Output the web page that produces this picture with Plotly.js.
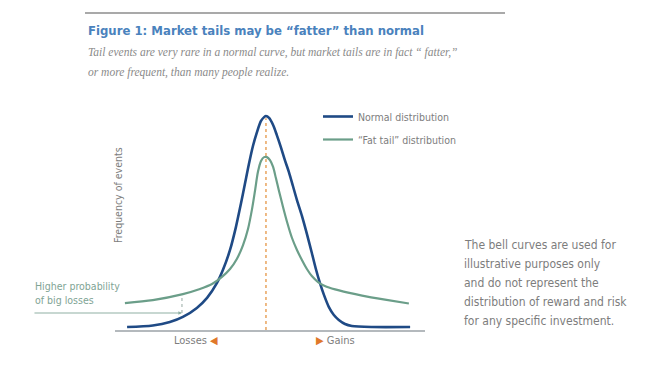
<!DOCTYPE html>
<html>
<head>
<meta charset="utf-8">
<script src="https://cdn.plot.ly/plotly-3.0.1.min.js"></script>
<style>html,body{margin:0;padding:0;background:#fff;}#chart{width:660px;height:366px;}</style>
</head>
<body>
<div id="chart"></div>
<script>
// ---- data ----
const seriesNames = ["Normal distribution", "\u201CFat tail\u201D distribution"];
const normalX = [-4.48,-3.65,-3.10,-2.68,-2.23,-1.90,-1.58,-1.39,-1.16,-0.97,-0.81,-0.68,-0.55,-0.42,-0.29,-0.16,-0.06,0,
                 0.10,0.23,0.35,0.48,0.61,0.74,0.87,1.00,1.16,1.32,1.48,1.61,1.74,1.87,2.03,2.19,2.35,2.55,2.77,3.42,4.65];
const normalY = [0.014,0.021,0.037,0.061,0.103,0.150,0.220,0.280,0.374,0.481,0.589,0.682,0.776,0.860,0.925,0.977,0.995,1.0,
                 0.991,0.958,0.911,0.855,0.794,0.738,0.673,0.607,0.533,0.449,0.360,0.285,0.220,0.164,0.107,0.070,0.047,0.028,0.019,0.014,0.014];
const fatX = [-4.55,-3.65,-2.68,-2.13,-1.74,-1.42,-1.16,-0.94,-0.74,-0.58,-0.45,-0.35,-0.26,-0.16,-0.06,0.03,
              0.13,0.23,0.32,0.42,0.55,0.68,0.84,1.00,1.16,1.32,1.48,1.68,1.90,2.23,2.65,3.10,3.84,4.61];
const fatY = [0.126,0.140,0.168,0.192,0.215,0.248,0.285,0.332,0.397,0.472,0.565,0.654,0.738,0.790,0.808,0.808,
              0.794,0.762,0.710,0.650,0.575,0.505,0.430,0.374,0.327,0.285,0.252,0.224,0.206,0.190,0.175,0.161,0.142,0.124];
const titleText = "Figure 1: Market tails may be \u201Cfatter\u201D than normal";
const subtitleLines = ["Tail events are very rare in a normal curve, but market tails are in fact \u201C fatter,\u201D", "or more frequent, than many people realize."];
const noteLines = ["The bell curves are used for", "illustrative purposes only", "and do not represent the", "distribution of reward and risk", "for any specific investment."];
const calloutText = "Higher probability<br>of big losses";
const yTitle = "Frequency of events";
const lossesLabel = "Losses";
const gainsLabel = "Gains";
const calloutX = -2.71;

// ---- helpers: pixel -> paper ----
const L = 115, R = 425, T = 100, B = 330;
const W = R - L, H = B - T;
const YMAX = 1.075;
const xp = p => (p - L) / W;
const yp = p => (B - p) / H;

const blue = "#1f4a85", green = "#6b9e89", grayText = "#7d7d7d", orange = "#e0782a";
const condensed = "'Liberation Sans Narrow', 'DejaVu Sans Condensed', 'Noto Sans', sans-serif";

const traces = [
  {x: normalX, y: normalY, name: seriesNames[0], type: "scatter", mode: "lines",
   line: {color: blue, width: 2.6, shape: "spline", smoothing: 0.8}, legendgroup: "a", hoverinfo: "skip"},
  {x: fatX, y: fatY, name: seriesNames[1], type: "scatter", mode: "lines",
   line: {color: green, width: 2.2, shape: "spline", smoothing: 0.8}, legendgroup: "b", hoverinfo: "skip"}
];

const ann = [];
ann.push({xref: "paper", yref: "paper", x: xp(86), y: yp(30), xanchor: "left", yanchor: "middle",
  text: "<b>" + titleText + "</b>", showarrow: false,
  font: {family: condensed, size: 13, color: "#4a82bd"}});
subtitleLines.forEach((t, i) => ann.push({xref: "paper", yref: "paper", x: xp(86), y: yp(52 + i * 20),
  xanchor: "left", yanchor: "middle", text: "<i>" + t + "</i>", showarrow: false,
  font: {family: "'Liberation Serif', serif", size: 11.5, color: "#8a8a8a"}}));
noteLines.forEach((t, i) => ann.push({xref: "paper", yref: "paper", x: xp(462), y: yp(245 + i * 19),
  xanchor: "left", yanchor: "middle", text: t, showarrow: false,
  font: {family: condensed, size: 12, color: grayText}}));
ann.push({xref: "paper", yref: "paper", x: xp(118), y: yp(195), textangle: -90,
  text: yTitle, showarrow: false, xanchor: "center", yanchor: "middle",
  font: {family: condensed, size: 10.5, color: grayText}});
ann.push({xref: "paper", yref: "paper", x: xp(33), y: yp(293), xanchor: "left", yanchor: "middle",
  align: "left", text: calloutText, showarrow: false,
  font: {family: condensed, size: 10.5, color: "#7fa495"}});
// callout arrow
ann.push({xref: "x", yref: "y", x: calloutX, y: yp(313) * YMAX, text: "", showarrow: true,
  ax: -149, ay: 0, arrowhead: 2, arrowsize: 0.6, arrowwidth: 1.2, arrowcolor: "#8fb0a3"});
ann.push({xref: "paper", yref: "paper", x: xp(220), y: yp(340), xanchor: "right", yanchor: "middle",
  text: lossesLabel + " <span style='color:" + orange + "'>\u25C0</span>", showarrow: false,
  font: {family: condensed, size: 11, color: grayText}});
ann.push({xref: "paper", yref: "paper", x: xp(314), y: yp(340), xanchor: "left", yanchor: "middle",
  text: "<span style='color:" + orange + "'>\u25B6</span> " + gainsLabel, showarrow: false,
  font: {family: condensed, size: 11, color: grayText}});

const shapes = [
  {type: "line", xref: "paper", yref: "paper", x0: xp(85), x1: xp(505), y0: yp(13), y1: yp(13),
   line: {color: "#a9a9a9", width: 2}},
  {type: "line", xref: "x", yref: "y", x0: 0, x1: 0, y0: 0, y1: 0.99, layer: "below",
   line: {color: "#e9a45e", width: 1.5, dash: "3px,3px"}},
  {type: "line", xref: "x", yref: "y", x0: calloutX, x1: calloutX, y0: yp(313) * YMAX, y1: 0.16, layer: "below",
   line: {color: "#a8b8b2", width: 1.2, dash: "3px,3px"}}
];

const layout = {
  width: 660, height: 366,
  margin: {l: L, r: 660 - R, t: T, b: 366 - B},
  paper_bgcolor: "#ffffff", plot_bgcolor: "#ffffff",
  showlegend: true,
  legend: {x: xp(318), y: yp(102), xanchor: "left", yanchor: "top", bgcolor: "rgba(0,0,0,0)",
    font: {family: condensed, size: 10.5, color: grayText}, tracegroupgap: 4, itemwidth: 30},
  xaxis: {range: [-4.87, 5.13], showgrid: false, zeroline: false, showticklabels: false, ticks: "",
    showline: true, linecolor: "#b4b9bd", linewidth: 1.5, fixedrange: true},
  yaxis: {range: [0, YMAX], showgrid: false, zeroline: false, showticklabels: false, ticks: "",
    showline: false, fixedrange: true},
  annotations: ann,
  shapes: shapes
};

Plotly.newPlot("chart", traces, layout, {displayModeBar: false, staticPlot: true});
</script>
</body>
</html>
